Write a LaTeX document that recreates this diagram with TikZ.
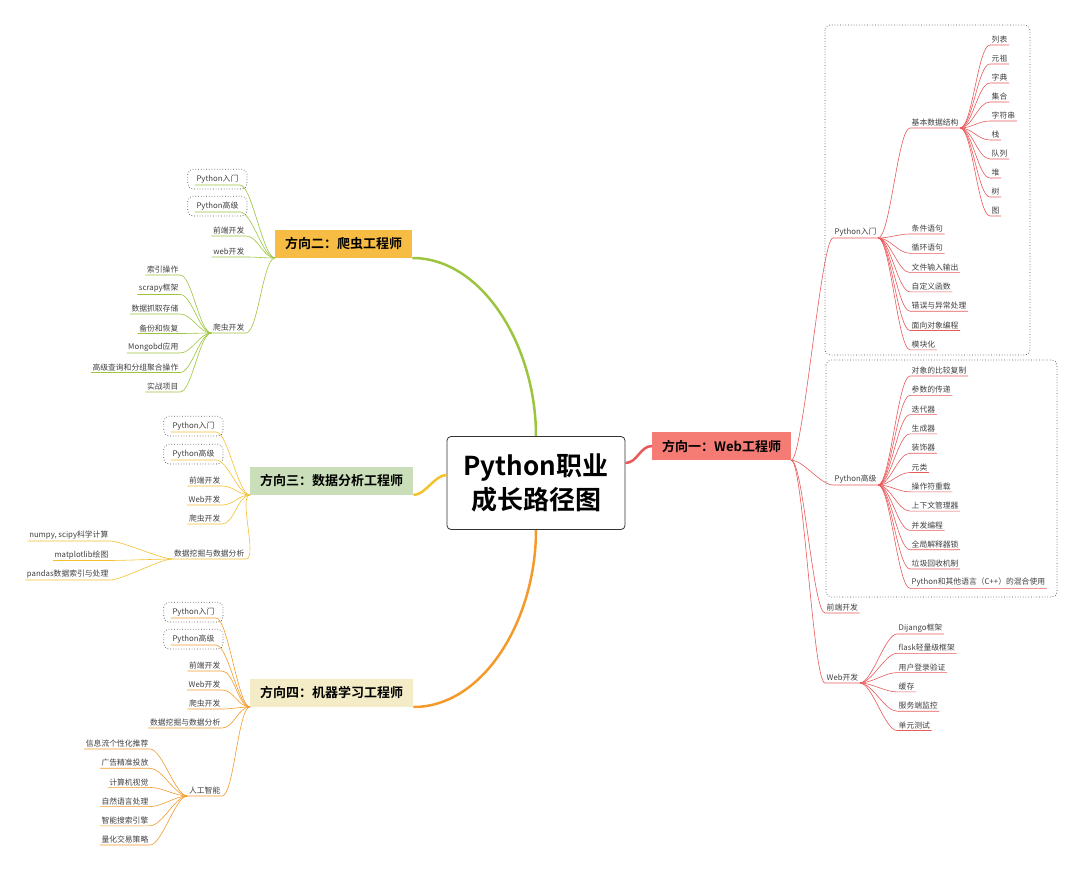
\documentclass[tikz,border=0pt]{standalone}
\usepackage{fontspec}
\setmainfont{Noto Sans CJK SC}[BoldFont={Noto Sans CJK SC Bold}]
\usetikzlibrary{fit}
\definecolor{webred}{HTML}{E8595A}
\definecolor{webbox}{HTML}{F47C74}
\definecolor{spider}{HTML}{9CC43E}
\definecolor{spiderbox}{HTML}{F6BC43}
\definecolor{data}{HTML}{F2C12E}
\definecolor{databox}{HTML}{CADFB9}
\definecolor{ml}{HTML}{F39A2B}
\definecolor{mlbox}{HTML}{F4ECC6}
\newcommand\leaffont{\fontsize{7.8}{9}\selectfont\color{black!75}}
\tikzset{
  leaf/.style={font=\leaffont, inner sep=1.5pt, anchor=south west},
  leafl/.style={leaf, anchor=south east},
  grp/.style={draw=black!70, dotted, line width=.7pt, rounded corners=5pt, inner xsep=7pt, inner ysep=4pt},
  branch/.style={font=\fontsize{13}{15}\selectfont\bfseries, inner xsep=10pt, inner ysep=5pt, minimum height=28pt}
}
% right-going and left-going links, ending in the leaf's underline
\newcommand\linkr[3]{\draw[#1] (#2) .. controls +(12,0) and +(-12,0) .. (#3.south west) -- (#3.south east);}
\newcommand\linkl[3]{\draw[#1] (#2) .. controls +(-12,0) and +(12,0) .. (#3.south east) -- (#3.south west);}
\begin{document}
\begin{tikzpicture}[x=1pt,y=-1pt]
	\useasboundingbox (0,0) rectangle (1080,870);
	\tikzset{rl/.style={webred, line width=.6pt}, gl/.style={spider, line width=.6pt},
	  yl/.style={data, line width=.6pt}, ol/.style={ml, line width=.6pt}}

	% centre
	\node[draw=black!80, line width=.8pt, rounded corners=4pt, minimum width=178pt, minimum height=93pt,
	  align=center, font=\fontsize{26}{34}\selectfont\bfseries] (c) at (536,483) {Python职业\\成长路径图};

	% ---------- direction one ----------
	\node[branch, fill=webbox, anchor=west] (d1) at (652,446) {方向一：Web工程师};
	\draw[webred, line width=2.5pt] (c.east) ++(0,-20) .. controls +(12,0) and +(-12,0) .. (d1.west);

	\node[leaf] (pa) at (833,238) {Python入门};
	\node[leaf] (pb) at (833,485) {Python高级};
	\node[leaf] (fe) at (825,613) {前端开发};
	\node[leaf] (wd) at (825,683) {Web开发};
	\foreach \n in {pa,pb,fe,wd}{ \linkr{rl}{d1.south east}{\n} }

	\node[leaf] (ds) at (910,128) {基本数据结构};
	\linkr{rl}{pa.south east}{ds}
	\foreach \t [count=\i] in {列表,元祖,字典,集合,字符串,栈,队列,堆,树,图}{
		\node[leaf] (a\i) at (990,{45+19*(\i-1)}) {\t};
		\linkr{rl}{ds.south east}{a\i}
	}
	\foreach \t [count=\i] in {条件语句,循环语句,文件输入输出,自定义函数,错误与异常处理,面向对象编程,模块化}{
		\node[leaf] (b\i) at (910,{234+19.3*(\i-1)}) {\t};
		\linkr{rl}{pa.south east}{b\i}
	}
	\foreach \t [count=\i] in {对象的比较复制,参数的传递,迭代器,生成器,装饰器,元类,操作符重载,上下文管理器,并发编程,全局解释器锁,垃圾回收机制,Python和其他语言（C++）的混合使用}{
		\node[leaf] (e\i) at (910,{376+19.3*(\i-1)}) {\t};
		\linkr{rl}{pb.south east}{e\i}
	}
	\foreach \t [count=\i] in {Dijango框架,flask轻量级框架,用户登录验证,缓存,服务端监控,单元测试}{
		\node[leaf] (w\i) at (897,{634+19.3*(\i-1)}) {\t};
		\linkr{rl}{wd.south east}{w\i}
	}
	\draw[grp] (825,25) rectangle (1030,355);
	\draw[grp] (826,360) rectangle (1057,597);

	% ---------- direction two ----------
	\node[branch, fill=spiderbox, anchor=south west] (d2) at (275,258) {方向二：爬虫工程师};
	\draw[spider, line width=2.5pt] (d2.south east) .. controls +(70,0) and +(0,-90) .. (c.north);

	\node[leafl] (sa) at (240,185) {Python入门};
	\node[leafl] (sb) at (240,212) {Python高级};
	\node[grp, fit=(sa)] {};
	\node[grp, fit=(sb)] {};
	\node[leafl] (sc) at (246,236) {前端开发};
	\node[leafl] (sd) at (246,257) {web开发};
	\node[leafl] (se) at (246,333) {爬虫开发};
	\foreach \n in {sa,sb,sc,sd,se}{ \linkl{gl}{d2.south west}{\n} }
	\foreach \t [count=\i] in {索引操作,scrapy框架,数据抓取存储,备份和恢复,Mongobd应用,高级查询和分组聚合操作,实战项目}{
		\node[leafl] (s\i) at (180,{275+19.5*(\i-1)}) {\t};
		\linkl{gl}{se.south west}{s\i}
	}

	% ---------- direction three ----------
	\node[branch, fill=databox, anchor=south west] (d3) at (250,495) {方向三：数据分析工程师};
	\draw[data, line width=2.5pt] (d3.south east) .. controls +(12,0) and +(-12,0) .. ([yshift=8pt]c.west);

	\node[leafl] (ta) at (216,432) {Python入门};
	\node[leafl] (tb) at (216,460) {Python高级};
	\node[grp, fit=(ta)] {};
	\node[grp, fit=(tb)] {};
	\foreach \t [count=\i] in {前端开发,Web开发,爬虫开发}{
		\node[leafl] (t\i) at (222,{486+19*(\i-1)}) {\t};
	}
	\node[leafl] (tm) at (246,559) {数据挖掘与数据分析};
	\foreach \n in {ta,tb,t1,t2,t3,tm}{ \linkl{yl}{d3.south west}{\n} }
	\foreach \t [count=\i] in {{numpy, scipy科学计算},matplotlib绘图,pandas数据索引与处理}{
		\node[leafl] (u\i) at (110,{541+19.5*(\i-1)}) {\t};
		\linkl{yl}{tm.south west}{u\i}
	}

	% ---------- direction four ----------
	\node[branch, fill=mlbox, anchor=south west] (d4) at (250,707) {方向四：机器学习工程师};
	\draw[ml, line width=2.5pt] (d4.south east) .. controls +(70,0) and +(0,90) .. (c.south);

	\node[leafl] (ma) at (216,618) {Python入门};
	\node[leafl] (mb) at (216,645) {Python高级};
	\node[grp, fit=(ma)] {};
	\node[grp, fit=(mb)] {};
	\foreach \t [count=\i] in {前端开发,Web开发,爬虫开发,数据挖掘与数据分析}{
		\node[leafl] (m\i) at (222,{671+19*(\i-1)}) {\t};
	}
	\node[leafl] (ai) at (222,796) {人工智能};
	\foreach \n in {ma,mb,m1,m2,m3,m4,ai}{ \linkl{ol}{d4.south west}{\n} }
	\foreach \t [count=\i] in {信息流个性化推荐,广告精准投放,计算机视觉,自然语言处理,智能搜索引擎,量化交易策略}{
		\node[leafl] (v\i) at (150,{749+19.2*(\i-1)}) {\t};
		\linkl{ol}{ai.south west}{v\i}
	}
\end{tikzpicture}
\end{document}
